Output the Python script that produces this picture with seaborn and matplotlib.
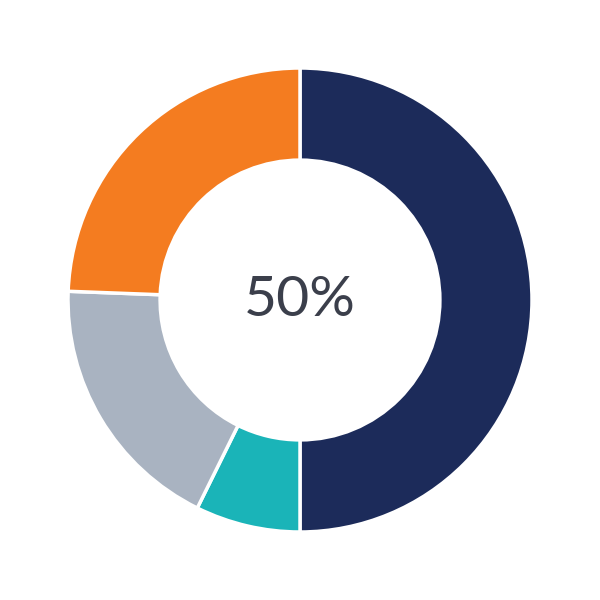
import matplotlib
matplotlib.use("Agg")
import matplotlib.pyplot as plt
import seaborn as sns

# ---- Data ----
segments = ["Primary", "Secondary", "Other", "Remaining"]
shares = [50.0, 7.3, 18.3, 24.4]
colors = ["#1c2b5a", "#1ab4b8", "#a9b3c1", "#f47c20"]
center_label = "50%"

sns.set_theme(style="white")
plt.rcParams['font.family'] = ['Lato', 'DejaVu Sans']

fig = plt.figure(figsize=(6, 6), dpi=100)
ax = fig.add_axes([0, 0, 1, 1])

ax.pie(shares, colors=colors, startangle=90, counterclock=False, radius=1.0,
       wedgeprops={'width': 0.397, 'edgecolor': 'white', 'linewidth': 2.5})

ax.text(0, 0.0, center_label, ha='center', va='center', fontsize=41, color="#3b3f4b")

lim = 300 / 232
ax.set_xlim(-lim, lim)
ax.set_ylim(-lim, lim)
ax.set_aspect('equal')
ax.axis('off')

plt.savefig("out.png", dpi=100, facecolor="white")
plt.close()
